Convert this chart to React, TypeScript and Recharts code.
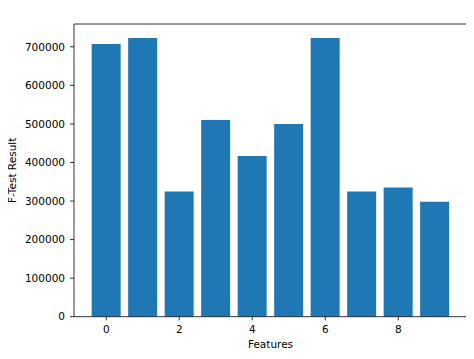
import React from 'react';
import { BarChart, Bar, XAxis, YAxis, Label, CartesianGrid } from 'recharts';

const features = [0, 1, 2, 3, 4, 5, 6, 7, 8, 9];
const fTestValues = [707500, 723000, 325000, 510000, 417000, 500000, 723000, 325000, 335000, 298000];
const xTicks = [0, 2, 4, 6, 8];
const yTicks = [0, 100000, 200000, 300000, 400000, 500000, 600000, 700000];

const data = features.map((f, i) => ({ feature: f, value: fTestValues[i] }));

const FONT = 'DejaVu Sans';
const FS = 10.5;
const AXIS = '#000';

const YLabel = (props: any) => {
  const vb = props.viewBox || {};
  const cx = 8.5;
  const cy = (vb.y ?? 0) + (vb.height ?? 0) / 2;
  return (
    <text
      x={cx}
      y={cy}
      transform={`rotate(-90 ${cx} ${cy})`}
      textAnchor="middle"
      fontFamily={FONT}
      fontSize={FS}
      fill="#000"
    >
      F-Test Result
    </text>
  );
};

export default function App() {
  const maxV = Math.max(...fTestValues) * 1.05;
  return (
    <div style={{ width: 466, height: 343 }}>
      <BarChart
        width={466}
        height={343}
        data={data}
        margin={{ top: 16, right: 7, bottom: 0, left: 0 }}
        barCategoryGap="10%"
      >
        <CartesianGrid
          stroke={AXIS}
          strokeWidth={0.8}
          horizontalCoordinatesGenerator={(p: any) => [p.offset.top]}
          verticalCoordinatesGenerator={(p: any) => [p.offset.left + p.offset.width]}
        />
        <XAxis
          dataKey="feature"
          type="category"
          ticks={xTicks}
          padding={{ left: 14, right: 14 }}
          height={34.3}
          tickSize={3.6}
          tickMargin={5.4}
          tick={{ fontFamily: FONT, fontSize: FS, fill: '#000' }}
          axisLine={{ stroke: AXIS, strokeWidth: 0.8 }}
          tickLine={{ stroke: AXIS, strokeWidth: 0.8 }}
        >
          <Label
            value="Features"
            position="insideBottom"
            offset={3}
            style={{ fontFamily: FONT, fontSize: FS, fill: '#000' }}
          />
        </XAxis>
        <YAxis
          type="number"
          domain={[0, maxV]}
          ticks={yTicks}
          allowDataOverflow
          width={66}
          tickSize={4}
          tickMargin={5}
          interval={0}
          tick={{ fontFamily: FONT, fontSize: FS, fill: '#000' }}
          axisLine={{ stroke: AXIS, strokeWidth: 0.8 }}
          tickLine={{ stroke: AXIS, strokeWidth: 0.8 }}
        >
          <Label content={YLabel} />
        </YAxis>
        <Bar dataKey="value" fill="#1f77b4" isAnimationActive={false} />
      </BarChart>
    </div>
  );
}
